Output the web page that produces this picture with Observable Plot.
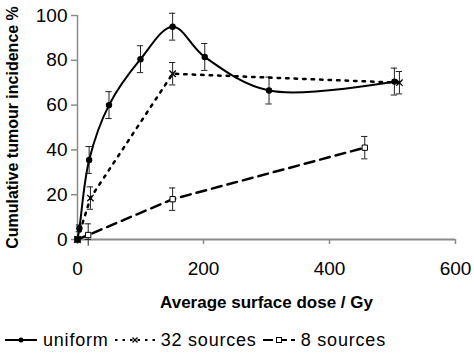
<!DOCTYPE html>
<html>
<head>
<meta charset="utf-8">
<script src="https://cdn.jsdelivr.net/npm/d3@7"></script>
<script src="https://cdn.jsdelivr.net/npm/@observablehq/plot@0.6"></script>
<style>
  body { margin: 0; background: #fff; font-family: "Liberation Sans", Arial, sans-serif; }
  #legend { display: flex; align-items: center; height: 40px; padding-left: 3px; font-size: 18px; letter-spacing: 0.8px; color: #000; }
  #legend .item { display: flex; align-items: center; margin-right: 4px; }
  #legend svg { margin-right: 4px; }
</style>
</head>
<body>
<div id="chart"></div>
<div id="legend"></div>
<script>
const seriesNames = ["uniform", "32 sources", "8 sources"];

const doseUniform = [0, 3, 18.5, 50, 100, 151, 202, 304, 503];
const incUniform  = [0, 5, 35.5, 60, 80.5, 95, 81.5, 66.5, 70.5];
const errUniform  = [0, 1.5, 6, 6, 6, 6, 6, 6, 6];

const dose32 = [0, 20.5, 151, 511];
const inc32  = [0, 18.5, 74, 70];
const err32  = [0, 5, 5, 5];

const dose8 = [0, 17, 151, 456];
const inc8  = [0, 2, 18, 41];
const err8  = [0, 5, 5, 5];

const xTicks = [0, 200, 400, 600];
const yTicks = [0, 20, 40, 60, 80, 100];

const toRows = (name, xs, ys, es) => xs.map((x, i) => ({series: name, x, y: ys[i], e: es[i]}));
const uni = toRows(seriesNames[0], doseUniform, incUniform, errUniform);
const s32 = toRows(seriesNames[1], dose32, inc32, err32);
const s8  = toRows(seriesNames[2], dose8, inc8, err8);
const all = [...uni, ...s32, ...s8].filter(d => d.e > 0);

const gray = "#8a8a8a";
const capHalf = 5;

const chart = Plot.plot({
  width: 474,
  height: 320,
  marginLeft: 77,
  marginRight: 19,
  marginTop: 15,
  marginBottom: 81,
  style: {fontFamily: "Liberation Sans, Arial, sans-serif", background: "#fff", overflow: "visible"},
  x: {domain: [0, 600], ticks: xTicks},
  y: {domain: [0, 100], ticks: yTicks},
  marks: [
    Plot.ruleY([0], {stroke: gray, strokeWidth: 2}),
    Plot.ruleX([0], {y1: 0, y2: 100, stroke: gray, strokeWidth: 1.5}),
    Plot.axisX({ticks: xTicks, tickSize: 5, tickPadding: 17, stroke: gray, strokeWidth: 1.5, fontSize: 19, fill: "#000", label: null, style: {letterSpacing: "0.6px"}}),
    Plot.axisY({ticks: yTicks, tickSize: 6, tickPadding: 4, stroke: gray, strokeWidth: 1.5, fontSize: 19, fill: "#000", label: null, style: {letterSpacing: "0.6px"}}),
    Plot.text(["Average surface dose / Gy"], {frameAnchor: "bottom", textAnchor: "middle", lineAnchor: "middle", dy: 63, fontSize: 17, fontWeight: "bold", fill: "#000", style: {letterSpacing: "1.1px"}}),
    Plot.text(["Cumulative tumour incidence %"], {frameAnchor: "left", textAnchor: "middle", lineAnchor: "middle", dx: -65, rotate: -90, fontSize: 16, fontWeight: "bold", fill: "#000"}),
    // error bars
    Plot.ruleX(all, {x: "x", y1: d => d.y - d.e, y2: d => d.y + d.e, stroke: "#222", strokeWidth: 1}),
    Plot.ruleY(all, {y: d => d.y + d.e, x1: d => d.x - capHalf, x2: d => d.x + capHalf, stroke: "#222", strokeWidth: 1}),
    Plot.ruleY(all, {y: d => Math.max(0, d.y - d.e), x1: d => d.x - capHalf, x2: d => d.x + capHalf, stroke: "#222", strokeWidth: 1}),
    // lines
    Plot.line(s8, {x: "x", y: "y", stroke: "#000", strokeWidth: 2.5, strokeDasharray: "10,6"}),
    Plot.line(s32, {x: "x", y: "y", stroke: "#000", strokeWidth: 2.5, strokeDasharray: "2.5,6"}),
    Plot.line(uni, {x: "x", y: "y", stroke: "#000", strokeWidth: 2, curve: "catmull-rom"}),
    // markers
    Plot.dot(s8, {x: "x", y: "y", symbol: "square", r: 3, fill: "#fff", stroke: "#000", strokeWidth: 1}),
    Plot.dot(s32, {x: "x", y: "y", symbol: "times", r: 3, stroke: "#000", strokeWidth: 1.3}),
    Plot.dot(uni, {x: "x", y: "y", symbol: "circle", r: 3.2, fill: "#000", stroke: "none"})
  ]
});
document.getElementById("chart").appendChild(chart);

// legend
const legend = d3.select("#legend");
const swatches = [
  {name: seriesNames[0], dash: null, sym: "circle", w: 36},
  {name: seriesNames[1], dash: "2.5,5", sym: "times", w: 44},
  {name: seriesNames[2], dash: "10,4", sym: "square", w: 36}
];
swatches.forEach(s => {
  const item = legend.append("div").attr("class", "item");
  const svg = item.append("svg").attr("width", s.w).attr("height", 12);
  const c = s.w / 2;
  const line = svg.append("line").attr("x1", 2).attr("x2", s.w - 2).attr("y1", 6).attr("y2", 6)
    .attr("stroke", "#000").attr("stroke-width", 2);
  if (s.dash) line.attr("stroke-dasharray", s.dash);
  if (s.sym === "circle") svg.append("circle").attr("cx", c).attr("cy", 6).attr("r", 2.5).attr("fill", "#000");
  if (s.sym === "times") svg.append("path").attr("d", `M${c-2.5},3.5L${c+2.5},8.5M${c+2.5},3.5L${c-2.5},8.5`).attr("stroke", "#000").attr("stroke-width", 1.2).attr("fill", "none");
  if (s.sym === "square") svg.append("rect").attr("x", c - 2.5).attr("y", 3.5).attr("width", 5).attr("height", 5).attr("fill", "#fff").attr("stroke", "#000").attr("stroke-width", 1);
  item.append("span").text(s.name);
});
</script>
</body>
</html>
